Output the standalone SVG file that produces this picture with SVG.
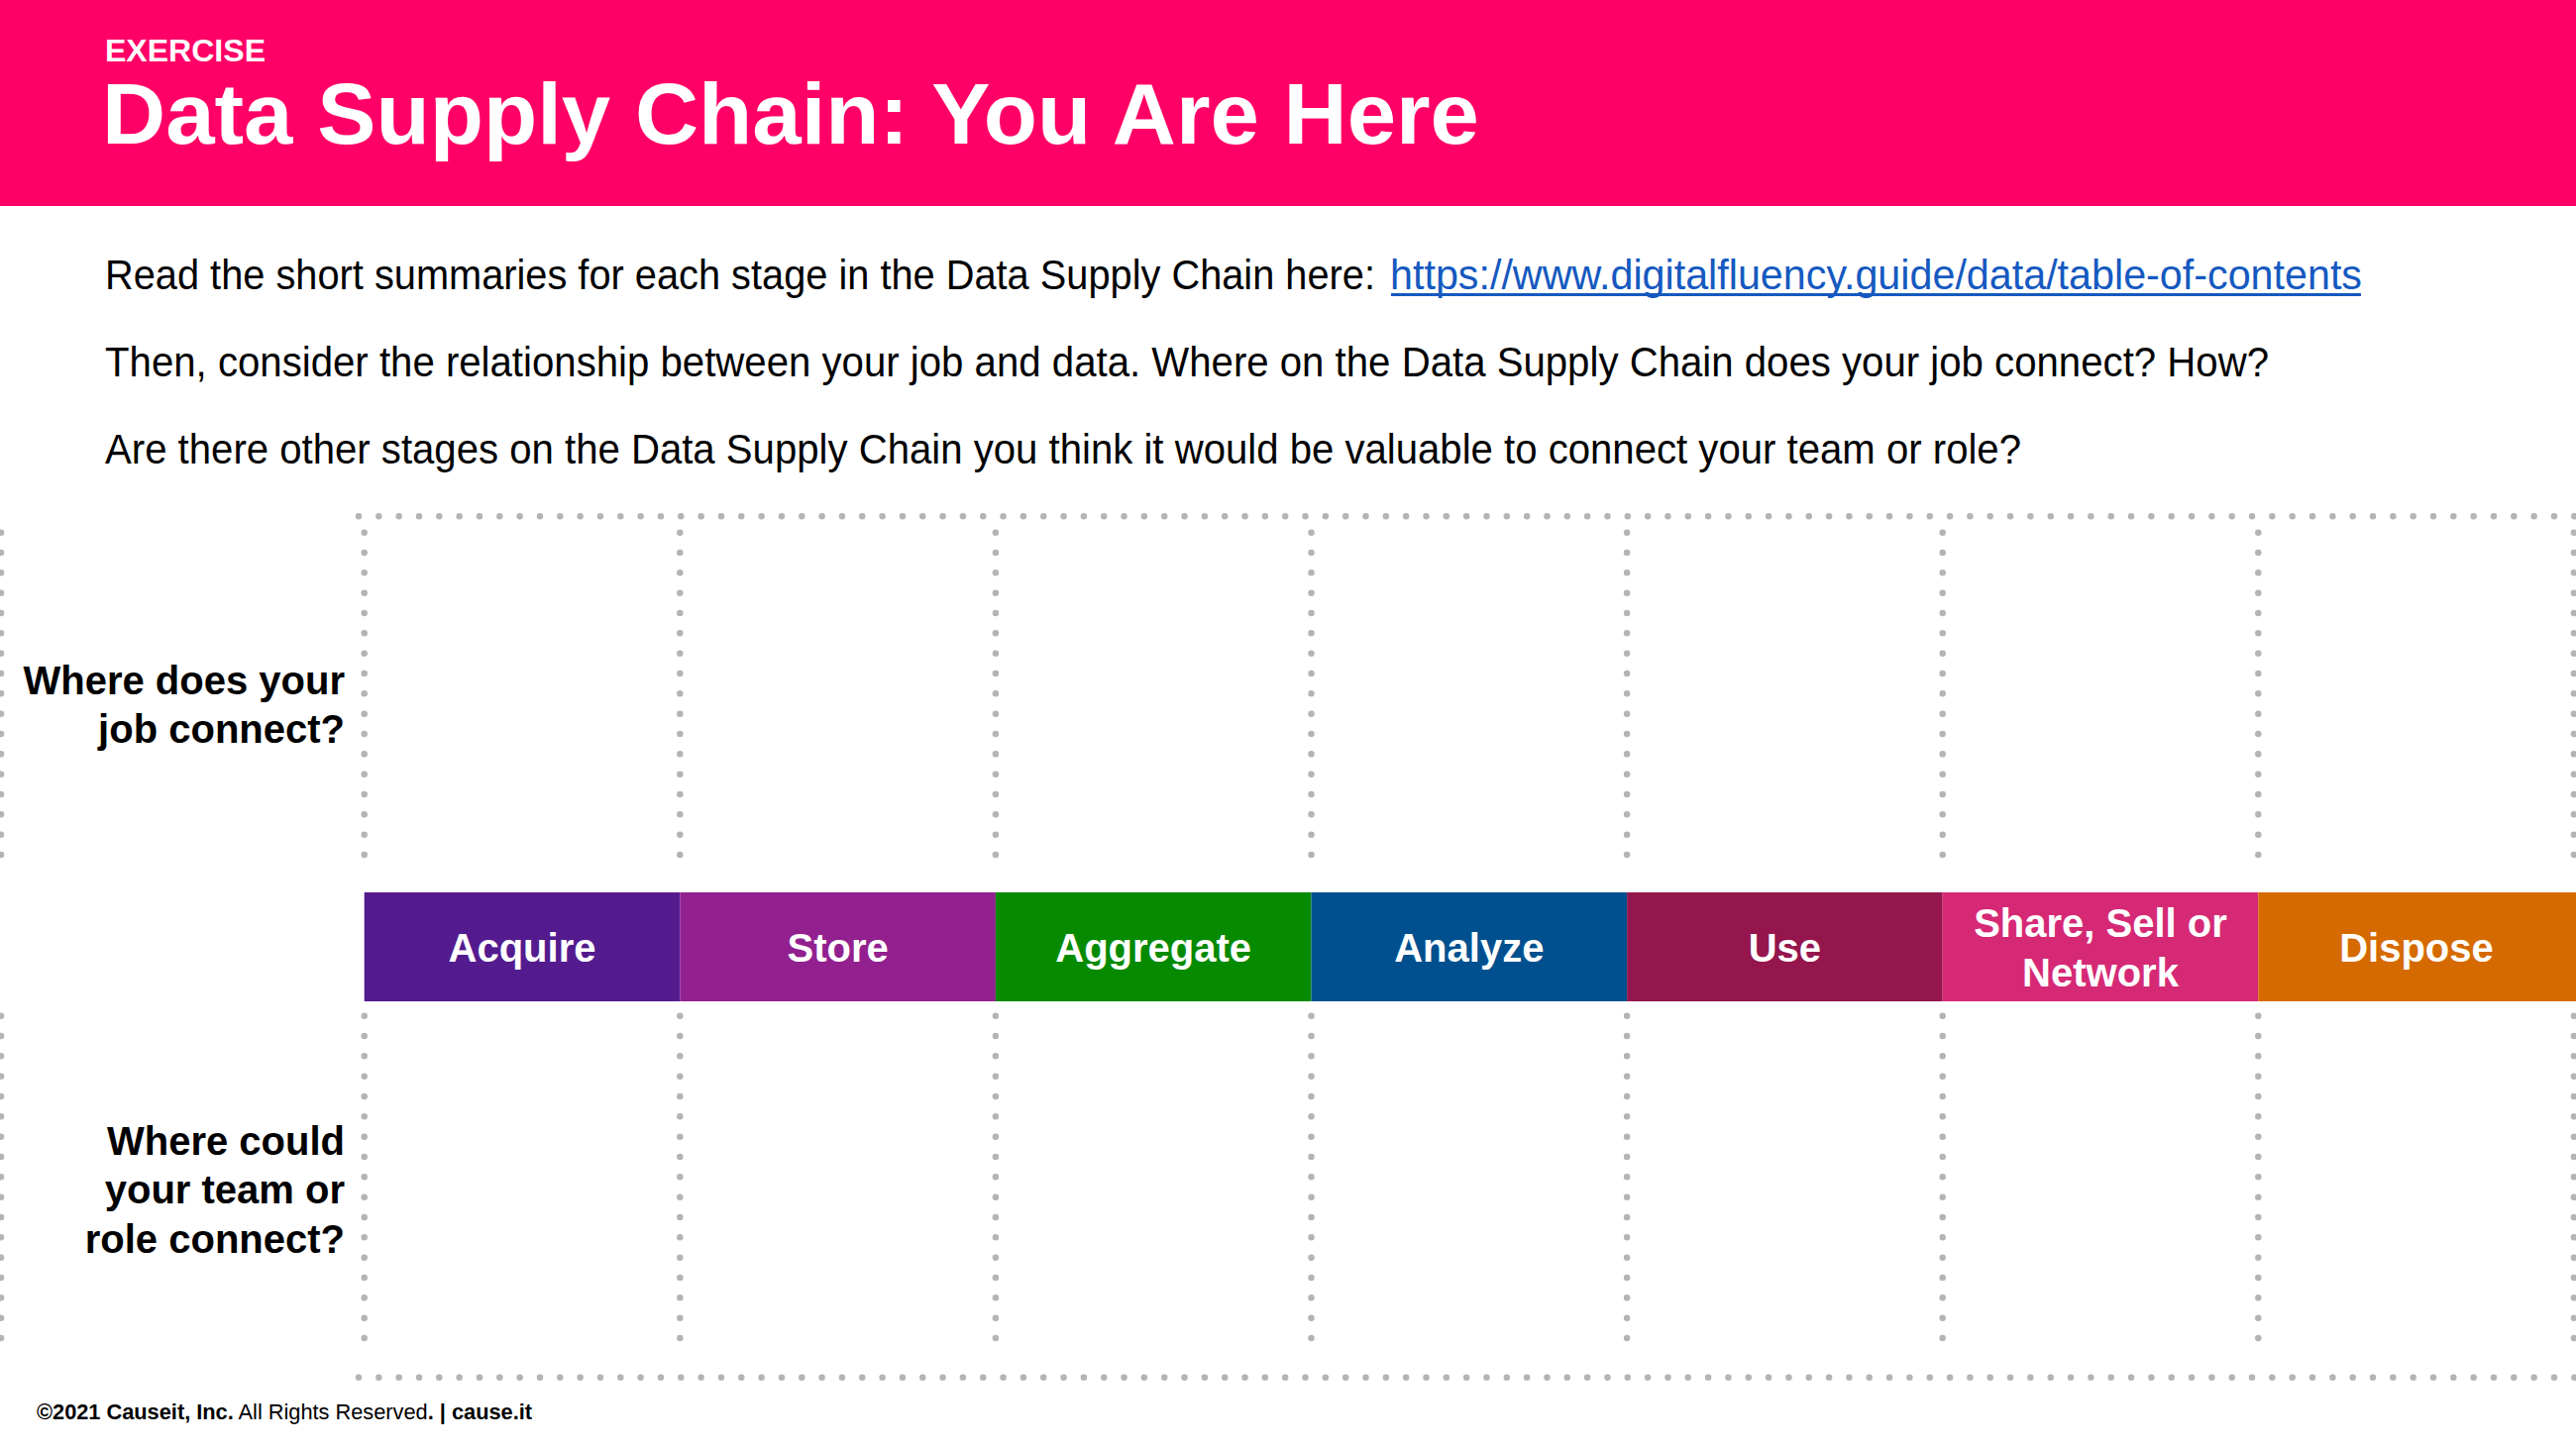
<svg xmlns="http://www.w3.org/2000/svg" width="2600" height="1463" viewBox="0 0 2600 1463">
<style>
  text { font-family: "Liberation Sans", Arial, Helvetica, sans-serif; }
  .b { font-weight: bold; }
  .body { font-size: 42px; fill: #000; }
  .side { font-size: 40px; font-weight: bold; fill: #000; text-anchor: end; }
  .stage { font-size: 40px; font-weight: bold; fill: #fff; text-anchor: middle; }
  .dots { stroke: #b4b4b4; stroke-width: 6.5; stroke-linecap: round; stroke-dasharray: 0 20.33; fill: none; }
</style>
<rect width="2600" height="1463" fill="#ffffff"/>

<g id="header">
  <rect x="0" y="0" width="2600" height="208" fill="#ff0066"/>
  <text x="106" y="62" class="b" font-size="32" fill="#fff" textLength="162" lengthAdjust="spacingAndGlyphs">EXERCISE</text>
  <text x="103" y="145" class="b" font-size="88" fill="#fff" textLength="1390" lengthAdjust="spacingAndGlyphs">Data Supply Chain: You Are Here</text>
</g>

<g id="instructions">
  <text x="106" y="292" class="body" textLength="1282" lengthAdjust="spacingAndGlyphs">Read the short summaries for each stage in the Data Supply Chain here:</text>
  <text x="1403" y="292" font-size="42" fill="#1559c0" textLength="981" lengthAdjust="spacingAndGlyphs">https://www.digitalfluency.guide/data/table-of-contents</text>
  <rect x="1404" y="296" width="979" height="3" fill="#1559c0"/>
  <text x="106" y="380" class="body" textLength="2184" lengthAdjust="spacingAndGlyphs">Then, consider the relationship between your job and data. Where on the Data Supply Chain does your job connect? How?</text>
  <text x="106" y="468" class="body" textLength="1934" lengthAdjust="spacingAndGlyphs">Are there other stages on the Data Supply Chain you think it would be valuable to connect your team or role?</text>
</g>

<g id="grid">
  <line class="dots" x1="362" y1="521.3" x2="2600" y2="521.3"/>
  <line class="dots" x1="362" y1="1390.7" x2="2600" y2="1390.7"/>
  <line class="dots" x1="1" y1="537.7" x2="1" y2="883.3"/>
  <line class="dots" x1="1" y1="1025.7" x2="1" y2="1371.3"/>
  <line class="dots" x1="367.7" y1="537.7" x2="367.7" y2="883.3"/>
  <line class="dots" x1="686.3" y1="537.7" x2="686.3" y2="883.3"/>
  <line class="dots" x1="1004.9" y1="537.7" x2="1004.9" y2="883.3"/>
  <line class="dots" x1="1323.5" y1="537.7" x2="1323.5" y2="883.3"/>
  <line class="dots" x1="1642.1" y1="537.7" x2="1642.1" y2="883.3"/>
  <line class="dots" x1="1960.7" y1="537.7" x2="1960.7" y2="883.3"/>
  <line class="dots" x1="2279.3" y1="537.7" x2="2279.3" y2="883.3"/>
  <line class="dots" x1="2597.9" y1="537.7" x2="2597.9" y2="883.3"/>
  <line class="dots" x1="367.7" y1="1025.7" x2="367.7" y2="1371.3"/>
  <line class="dots" x1="686.3" y1="1025.7" x2="686.3" y2="1371.3"/>
  <line class="dots" x1="1004.9" y1="1025.7" x2="1004.9" y2="1371.3"/>
  <line class="dots" x1="1323.5" y1="1025.7" x2="1323.5" y2="1371.3"/>
  <line class="dots" x1="1642.1" y1="1025.7" x2="1642.1" y2="1371.3"/>
  <line class="dots" x1="1960.7" y1="1025.7" x2="1960.7" y2="1371.3"/>
  <line class="dots" x1="2279.3" y1="1025.7" x2="2279.3" y2="1371.3"/>
  <line class="dots" x1="2597.9" y1="1025.7" x2="2597.9" y2="1371.3"/>
</g>

<g id="connectors"></g>

<g id="label-job">
  <text class="side" x="348" y="701">Where does your</text>
  <text class="side" x="348" y="750">job connect?</text>
</g>
<g id="label-team">
  <text class="side" x="348" y="1166">Where could</text>
  <text class="side" x="348" y="1215">your team or</text>
  <text class="side" x="348" y="1265">role connect?</text>
</g>

<g id="stage-acquire">
  <rect x="367.7" y="901" width="318.6" height="110" fill="#541b8f"/>
  <text class="stage" x="527" y="971">Acquire</text>
</g>
<g id="stage-store">
  <rect x="686.3" y="901" width="318.6" height="110" fill="#92208f"/>
  <text class="stage" x="845.6" y="971">Store</text>
</g>
<g id="stage-aggregate">
  <rect x="1004.9" y="901" width="318.6" height="110" fill="#068a00"/>
  <text class="stage" x="1164.2" y="971">Aggregate</text>
</g>
<g id="stage-analyze">
  <rect x="1323.5" y="901" width="318.6" height="110" fill="#00508f"/>
  <text class="stage" x="1482.8" y="971">Analyze</text>
</g>
<g id="stage-use">
  <rect x="1642.1" y="901" width="318.6" height="110" fill="#94164d"/>
  <text class="stage" x="1801.4" y="971">Use</text>
</g>
<g id="stage-share">
  <rect x="1960.7" y="901" width="318.6" height="110" fill="#d52976"/>
  <text class="stage" x="2120" y="946">Share, Sell or</text>
  <text class="stage" x="2120" y="996">Network</text>
</g>
<g id="stage-dispose">
  <rect x="2279.3" y="901" width="320.7" height="110" fill="#d56a00"/>
  <text class="stage" x="2439" y="971">Dispose</text>
</g>

<g id="footer">
  <text x="37" y="1433" font-size="21.5" fill="#000" textLength="500" lengthAdjust="spacingAndGlyphs"><tspan font-weight="bold">©2021 Causeit, Inc.</tspan> All Rights Reserved<tspan font-weight="bold">. | cause.it</tspan></text>
</g>
</svg>
